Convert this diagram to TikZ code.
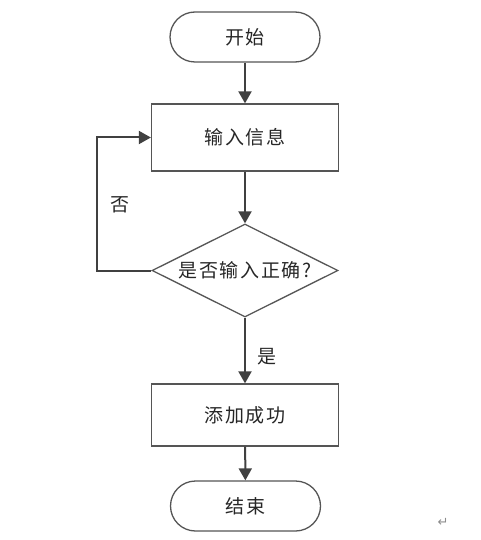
\documentclass[tikz,border=0pt]{standalone}
\usepackage{fontspec}
\newfontfamily\cjk[LetterSpace=8]{Noto Sans CJK SC}
\newfontfamily\dejavu{DejaVu Sans}
\usetikzlibrary{shapes.geometric,arrows.meta}
\definecolor{lc}{HTML}{404040}
\definecolor{bc}{HTML}{555555}
\tikzset{
  every node/.style={font=\cjk\fontsize{19}{22}\selectfont, text=black!85},
  termbox/.style={draw=bc, line width=1.3pt, rectangle, rounded corners=25pt, minimum width=150pt, minimum height=50pt, inner sep=0pt},
  procbox/.style={draw=bc, line width=1.3pt, rectangle, minimum width=187pt, inner sep=0pt},
  decbox/.style={draw=bc, line width=1.3pt, diamond, aspect=2, minimum width=186pt, minimum height=93pt, inner sep=0pt},
  arr/.style={draw=lc, line width=2pt, -{Triangle[length=12pt,width=13pt]}},
  lbl/.style={inner sep=0pt}
}
\begin{document}
\begin{tikzpicture}[x=1pt,y=-1pt]
\useasboundingbox (0,0) rectangle (480,540);
\node[termbox] (st) at (245,37) {开始};
\node[procbox, minimum height=67pt] (in) at (245,137.5) {输入信息};
\node[decbox] (dc) at (245,270.5) {是否输入正确?};
\node[procbox, minimum height=62pt] (ad) at (245,415) {添加成功};
\node[termbox] (en) at (245.5,506) {结束};
\coordinate (lp) at (97,270.5);
\draw[arr] (st) -- (in);
\draw[arr] (in) -- (dc);
\draw[arr] (dc) -- (ad);
\draw[arr] (ad) -- (en);
\draw[arr] (dc.west) -- (lp) |- (in.west);
\node[lbl] (no) at (120,205) {否};
\node[lbl] (yes) at (267,357) {是};
\node[lbl, font=\dejavu\fontsize{13}{15}\selectfont, text=black!45] (ret) at (443,522) {↵};
\end{tikzpicture}
\end{document}
